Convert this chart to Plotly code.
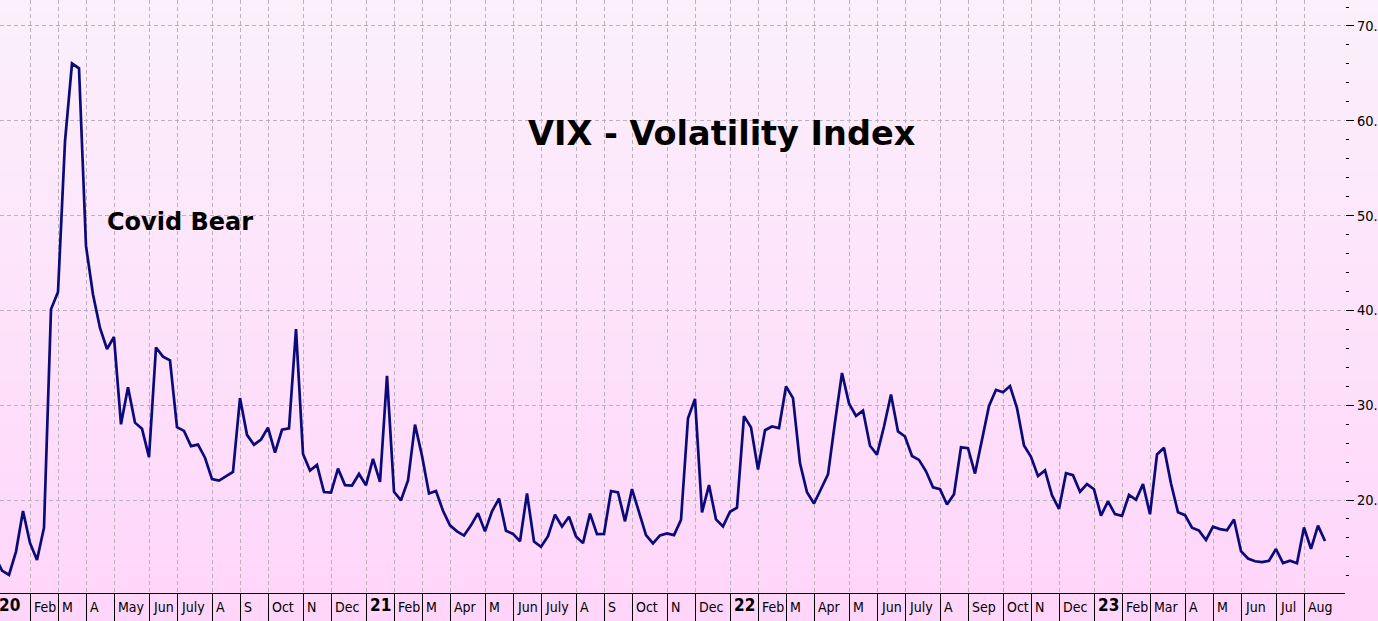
import base64, zlib, struct
import pandas as pd
import plotly.graph_objects as go

# ---------------- data (weekly VIX closes, Friday-dated weeks) ----------------
first_week = "2020-01-03"
last_week = "2023-08-25"
holiday_fridays = ["2020-04-10", "2020-07-03", "2020-12-25", "2021-01-01",
                   "2021-04-02", "2021-12-24", "2022-04-15", "2023-04-07"]

vix_2020 = [14.02, 12.56, 12.10, 14.56, 18.84,
            15.47, 13.68, 17.08, 40.11,
            41.94, 57.83, 66.04, 65.54,
            46.80, 41.67, 38.15, 35.93,
            37.19, 27.98, 31.89, 28.16, 27.51,
            24.52, 36.09, 35.12, 34.73,
            27.68, 27.29, 25.68, 25.84, 24.46,
            22.21, 22.05, 22.54, 22.96,
            30.75, 26.87, 25.83, 26.38,
            27.63, 25.00, 27.41, 27.55, 38.02,
            24.86, 23.10, 23.70, 20.84,
            20.79, 23.31, 21.57, 21.53, 22.75]
vix_2021 = [21.56, 24.34, 21.91, 33.09,
            20.87, 19.97, 22.05, 27.95,
            24.66, 20.69, 20.95, 18.86,
            17.33, 16.69, 16.25, 17.33, 18.61,
            16.69, 18.81, 20.15, 16.76,
            16.42, 15.65, 20.70, 15.62,
            15.07, 16.18, 18.45, 17.20, 18.24,
            16.15, 15.45, 18.56, 16.39,
            16.41, 20.95, 20.81, 17.75,
            21.15, 18.77, 16.30, 15.43, 16.26,
            16.48, 16.29, 17.91, 28.62,
            30.67, 18.69, 21.57, 17.96, 17.22]
vix_2022 = [18.76, 19.19, 28.85, 27.66,
            23.22, 27.36, 27.75, 27.59,
            31.98, 30.75, 23.87, 20.81,
            19.63, 21.16, 22.70, 28.21, 33.40,
            30.19, 28.87, 29.43, 25.72,
            24.79, 27.75, 31.13, 27.23,
            26.70, 24.64, 24.23, 23.03, 21.33,
            21.15, 19.53, 20.60, 25.56,
            25.47, 22.79, 26.30, 29.92, 31.62,
            31.36, 32.02, 29.69, 25.75,
            24.55, 22.52, 23.12, 20.50,
            19.06, 22.83, 22.62, 20.87, 21.67]
vix_2023 = [21.13, 18.35, 19.85, 18.51,
            18.33, 20.53, 20.02, 21.67,
            18.49, 24.80, 25.51, 21.74, 18.70,
            18.40, 17.07, 16.77, 15.78,
            17.19, 16.93, 16.81, 17.95,
            14.60, 13.83, 13.54, 13.44, 13.59,
            14.83, 13.34, 13.60, 13.33,
            17.10, 14.84, 17.30, 15.68]

month_labels = ["20", "Feb", "M", "A", "May", "Jun", "July", "A", "S", "Oct", "N", "Dec",
                "21", "Feb", "M", "Apr", "M", "Jun", "July", "A", "S", "Oct", "N", "Dec",
                "22", "Feb", "M", "Apr", "M", "Jun", "July", "A", "Sep", "Oct", "N", "Dec",
                "23", "Feb", "Mar", "A", "M", "Jun", "Jul", "Aug"]
year_labels = {"20", "21", "22", "23"}

y_tickvals = [20, 30, 40, 50, 60, 70]
y_ticktext = ["20.", "30.", "40.", "50.", "60.", "70."]

title_text = "VIX - Volatility Index"
note_text = "Covid Bear"

# ---------------- derived ----------------
vix = vix_2020 + vix_2021 + vix_2022 + vix_2023
fridays = pd.date_range(first_week, last_week, freq="W-FRI")
hol = set(pd.to_datetime(holiday_fridays))
trade_dates = [d - pd.Timedelta(days=1) if d in hol else d for d in fridays]

# month separators: first week whose trading date falls in a new month
seps = []
prev = None
for f, t in zip(fridays, trade_dates):
    key = (t.year, t.month)
    if key != prev:
        seps.append(f)
        prev = key

x_start = pd.Timestamp("2020-01-08")
x_end = pd.Timestamp("2023-09-14")


def gradient_png(h, top, bot):
    raw = b"".join(
        b"\x00" + bytes([round(top[c] + (bot[c] - top[c]) * y / (h - 1)) for c in range(3)])
        for y in range(h))

    def chunk(t, d):
        return struct.pack(">I", len(d)) + t + d + struct.pack(">I", zlib.crc32(t + d) & 0xffffffff)

    png = (b"\x89PNG\r\n\x1a\n"
           + chunk(b"IHDR", struct.pack(">IIBBBBB", 1, h, 8, 2, 0, 0, 0))
           + chunk(b"IDAT", zlib.compress(raw))
           + chunk(b"IEND", b""))
    return "data:image/png;base64," + base64.b64encode(png).decode()


W, H = 1378, 621
ML, MR, MT, MB = 0, 33, 0, 28
PW, PH = W - ML - MR, H - MT - MB

fig = go.Figure()
fig.add_trace(go.Scatter(
    x=fridays, y=vix, mode="lines",
    line=dict(color="#0a0a78", width=2.7),
    hoverinfo="skip", showlegend=False))

grid_col = "#bdb0bd"
label_font = "DejaVu Sans Condensed, Liberation Sans Narrow, DejaVu Sans, sans-serif"

annotations = []
for s, lab in zip(seps, month_labels):
    xs = 1.5
    xpos = s
    if s < x_start:
        xs += (s - x_start).days
        xpos = x_start
    is_year = lab in year_labels
    annotations.append(dict(
        x=xpos, xref="x", y=(-11.5 if is_year else -14.0) / PH, yref="paper",
        text=lab, showarrow=False, xanchor="left", yanchor="middle", xshift=xs,
        font=dict(family=label_font, size=17 if is_year else 14, color="black",
                  weight="bold" if is_year else "normal")))

annotations.append(dict(
    x=722 / PW, y=1 - 133 / PH, xref="paper", yref="paper", text=title_text,
    showarrow=False, xanchor="center", yanchor="middle",
    font=dict(family="DejaVu Sans, Verdana, sans-serif", size=33.5, color="black", weight="bold")))
annotations.append(dict(
    x=180 / PW, y=1 - 222.5 / PH, xref="paper", yref="paper", text=note_text,
    showarrow=False, xanchor="center", yanchor="middle",
    font=dict(family="DejaVu Sans, Verdana, sans-serif", size=24, color="black", weight="bold")))

fig.update_layout(
    width=W, height=H,
    margin=dict(l=ML, r=MR, t=MT, b=MB, pad=0, autoexpand=False),
    paper_bgcolor="#FDE4FB",
    plot_bgcolor="rgba(0,0,0,0)",
    showlegend=False,
    images=[dict(source=gradient_png(H, (251, 240, 251), (255, 213, 250)),
                 xref="paper", yref="paper", x=0, y=1,
                 sizex=W / PW, sizey=H / PH, xanchor="left", yanchor="top",
                 sizing="stretch", layer="below")],
    xaxis=dict(
        type="date", range=[x_start, x_end], automargin=False,
        tickvals=seps, showticklabels=False,
        ticks="outside", ticklen=28, tickcolor="black", tickwidth=1,
        showgrid=True, gridcolor=grid_col, griddash="4px,3px", gridwidth=1,
        showline=True, linecolor="black", linewidth=1,
        zeroline=False, fixedrange=True),
    yaxis=dict(
        side="right", range=[10.19, 72.74], automargin=False,
        tickvals=y_tickvals, ticktext=y_ticktext,
        ticks="outside", ticklen=8, tickcolor="black", tickwidth=1,
        tickfont=dict(family=label_font, size=14.5, color="black"),
        showgrid=True, gridcolor=grid_col, griddash="4px,3px", gridwidth=1,
        minor=dict(dtick=2, tick0=0, ticks="outside", ticklen=3, tickcolor="black",
                   showgrid=False),
        showline=False, zeroline=False, fixedrange=True),
    annotations=annotations,
)

fig.write_html("out.html", config={"displayModeBar": False})
